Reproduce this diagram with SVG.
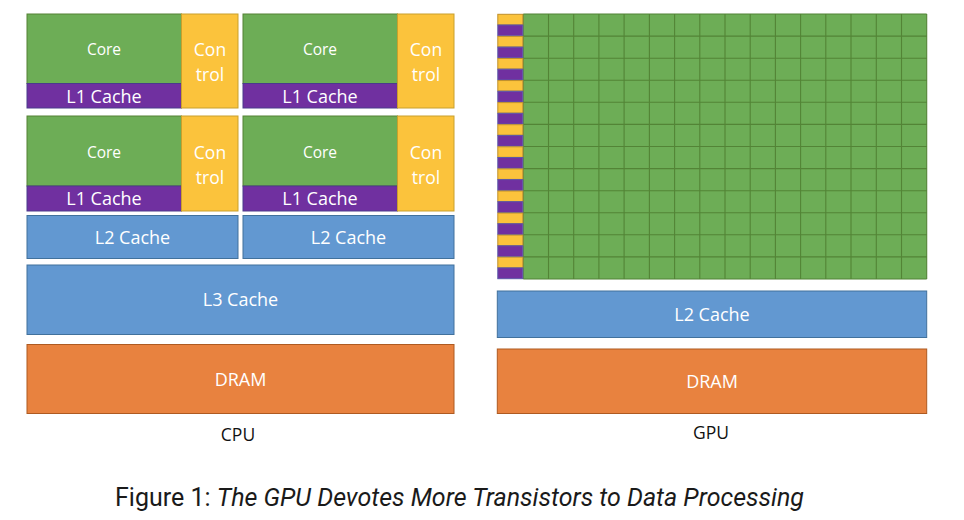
<svg xmlns="http://www.w3.org/2000/svg" width="964" height="520" viewBox="0 0 964 520">
<style>
.core{fill:#6DAD56;stroke:#548235;stroke-width:1}
.l1{fill:#7030A0;stroke:#4A3A8C;stroke-width:1}
.ctl{fill:#FBC33C;stroke:#C9A02C;stroke-width:1}
.blue{fill:#6298D1;stroke:#41719C;stroke-width:1}
.dram{fill:#E8823F;stroke:#AE5A21;stroke-width:1}
.sy{fill:#FBC33C;stroke:#C08F2A;stroke-width:1}
.sp{fill:#7030A0;stroke:#5A58A8;stroke-width:1}
.grid{fill:none;stroke:#538436;stroke-width:1.1}
text{font-family:"Open Sans","Liberation Sans",sans-serif;text-anchor:middle;fill:#FFFFFF}
.t16{font-size:15.5px}
.t18{font-size:18px}
.t17{font-size:17.5px}
.lab{fill:#111111;font-size:17.5px}
.cap{font-family:Roboto,"Liberation Sans",sans-serif;font-size:25px;fill:#1a1a1a;text-anchor:start}
</style>
<g id="cpu-core1">
<rect class="core" x="27" y="14" width="154.5" height="69.5"/>
<rect class="l1" x="27" y="83.5" width="154.5" height="24.5"/>
<rect class="ctl" x="181.5" y="14" width="56.5" height="94"/>
<text class="t16" x="104" y="55">Core</text>
<text class="t18" x="104" y="103">L1 Cache</text>
<text class="t17" x="210" y="56">Con</text>
<text class="t17" x="210" y="81">trol</text>
</g>
<g id="cpu-core2">
<rect class="core" x="243" y="14" width="154.5" height="69.5"/>
<rect class="l1" x="243" y="83.5" width="154.5" height="24.5"/>
<rect class="ctl" x="397.5" y="14" width="56.5" height="94"/>
<text class="t16" x="320" y="55">Core</text>
<text class="t18" x="320" y="103">L1 Cache</text>
<text class="t17" x="426" y="56">Con</text>
<text class="t17" x="426" y="81">trol</text>
</g>
<g id="cpu-core3">
<rect class="core" x="27" y="116" width="154.5" height="70"/>
<rect class="l1" x="27" y="186" width="154.5" height="25"/>
<rect class="ctl" x="181.5" y="116" width="56.5" height="95"/>
<text class="t16" x="104" y="158">Core</text>
<text class="t18" x="104" y="205">L1 Cache</text>
<text class="t17" x="210" y="159">Con</text>
<text class="t17" x="210" y="184">trol</text>
</g>
<g id="cpu-core4">
<rect class="core" x="243" y="116" width="154.5" height="70"/>
<rect class="l1" x="243" y="186" width="154.5" height="25"/>
<rect class="ctl" x="397.5" y="116" width="56.5" height="95"/>
<text class="t16" x="320" y="158">Core</text>
<text class="t18" x="320" y="205">L1 Cache</text>
<text class="t17" x="426" y="159">Con</text>
<text class="t17" x="426" y="184">trol</text>
</g>
<g id="cpu-l2-left">
<rect class="blue" x="27" y="215.5" width="211" height="43"/>
<text class="t18" x="132.5" y="244">L2 Cache</text>
</g>
<g id="cpu-l2-right">
<rect class="blue" x="243" y="215.5" width="211" height="43"/>
<text class="t18" x="348.5" y="244">L2 Cache</text>
</g>
<g id="cpu-l3">
<rect class="blue" x="27" y="265" width="427" height="69.5"/>
<text class="t18" x="240.5" y="306">L3 Cache</text>
</g>
<g id="cpu-dram">
<rect class="dram" x="27" y="344.5" width="427" height="69"/>
<text class="t18" x="240.5" y="386">DRAM</text>
</g>
<g id="cpu-label">
<text class="lab" x="238" y="441">CPU</text>
</g>
<g id="gpu-cores">
<rect x="523.3" y="14" width="403.4" height="265" fill="#6DAD56"/>
<path class="grid" d="M523.3 14V279M548.5 14V279M573.7 14V279M598.9 14V279M624.1 14V279M649.4 14V279M674.6 14V279M699.8 14V279M725 14V279M750.2 14V279M775.4 14V279M800.6 14V279M825.8 14V279M851 14V279M876.3 14V279M901.5 14V279M926.7 14V279M523.3 14H926.7M523.3 36.1H926.7M523.3 58.2H926.7M523.3 80.25H926.7M523.3 102.3H926.7M523.3 124.4H926.7M523.3 146.5H926.7M523.3 168.6H926.7M523.3 190.7H926.7M523.3 212.75H926.7M523.3 234.8H926.7M523.3 256.9H926.7M523.3 279H926.7"/>
</g>
<g id="gpu-control-cache">
<rect class="sy" x="497.8" y="14.3" width="25" height="10.5"/><rect class="sp" x="497.8" y="25" width="25" height="10.8"/>
<rect class="sy" x="497.8" y="36.4" width="25" height="10.5"/><rect class="sp" x="497.8" y="47.1" width="25" height="10.8"/>
<rect class="sy" x="497.8" y="58.5" width="25" height="10.5"/><rect class="sp" x="497.8" y="69.2" width="25" height="10.8"/>
<rect class="sy" x="497.8" y="80.55" width="25" height="10.5"/><rect class="sp" x="497.8" y="91.25" width="25" height="10.8"/>
<rect class="sy" x="497.8" y="102.6" width="25" height="10.5"/><rect class="sp" x="497.8" y="113.3" width="25" height="10.8"/>
<rect class="sy" x="497.8" y="124.7" width="25" height="10.5"/><rect class="sp" x="497.8" y="135.4" width="25" height="10.8"/>
<rect class="sy" x="497.8" y="146.8" width="25" height="10.5"/><rect class="sp" x="497.8" y="157.5" width="25" height="10.8"/>
<rect class="sy" x="497.8" y="168.9" width="25" height="10.5"/><rect class="sp" x="497.8" y="179.6" width="25" height="10.8"/>
<rect class="sy" x="497.8" y="191" width="25" height="10.5"/><rect class="sp" x="497.8" y="201.7" width="25" height="10.8"/>
<rect class="sy" x="497.8" y="213.05" width="25" height="10.5"/><rect class="sp" x="497.8" y="223.75" width="25" height="10.8"/>
<rect class="sy" x="497.8" y="235.1" width="25" height="10.5"/><rect class="sp" x="497.8" y="245.8" width="25" height="10.8"/>
<rect class="sy" x="497.8" y="257.2" width="25" height="10.5"/><rect class="sp" x="497.8" y="267.9" width="25" height="10.8"/>
</g>
<g id="gpu-l2">
<rect class="blue" x="497.3" y="291" width="429.4" height="46.5"/>
<text class="t18" x="712" y="321">L2 Cache</text>
</g>
<g id="gpu-dram">
<rect class="dram" x="497.3" y="349" width="429.4" height="64.5"/>
<text class="t18" x="712" y="388">DRAM</text>
</g>
<g id="gpu-label">
<text class="lab" x="711" y="439">GPU</text>
</g>
<g id="connectors"/>
<g id="caption">
<text class="cap" x="115" y="506">Figure 1: <tspan font-style="italic">The GPU Devotes More Transistors to Data Processing</tspan></text>
</g>
</svg>
